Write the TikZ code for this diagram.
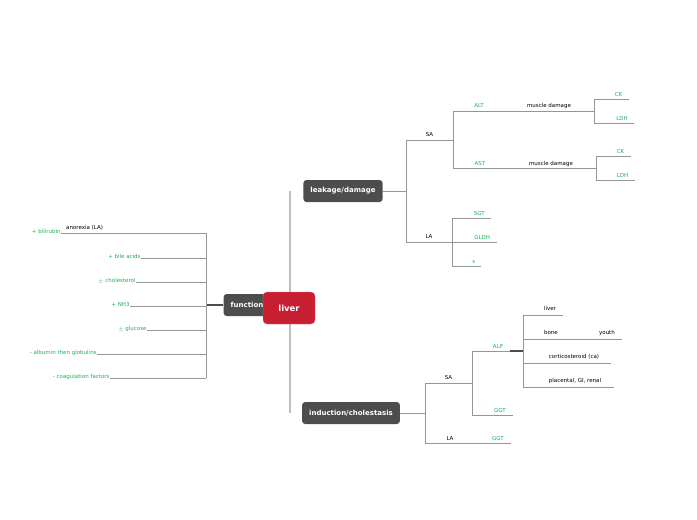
\documentclass[tikz,border=0pt]{standalone}
\usepackage{fontspec}
\setmainfont{DejaVu Sans}
\usetikzlibrary{positioning,calc}
\definecolor{leafgreen}{RGB}{30,176,90}
\definecolor{linegrey}{RGB}{150,150,150}
\definecolor{boxgrey}{RGB}{77,77,77}
\definecolor{liverred}{RGB}{200,30,50}
\tikzset{
  topic/.style={draw=none,fill=boxgrey,text=white,rounded corners=3pt,font=\bfseries\fontsize{7}{8}\selectfont,minimum height=22pt,inner xsep=7pt},
  lbl/.style={font=\fontsize{5.5}{6}\selectfont,inner sep=0pt,anchor=base},
  grn/.style={lbl,text=leafgreen},
  edge/.style={draw=linegrey,line width=0.8pt},
}
\begin{document}
\begin{tikzpicture}[x=1pt,y=-1pt]
\useasboundingbox (0,0) rectangle (697,520);
%% spine
\draw [line width=2pt,draw=linegrey!60] (290,191) -- (290,413);
% Node: leakage, function, induction
\node [topic] (leak) at (343,191) {leakage/damage};
\node [topic] (func) at (247,305) {function};
\node [topic] (ind) at (351,413) {induction/cholestasis};
% Node: liver
\node [draw=liverred!60,fill=liverred,text=white,rounded corners=4pt,font=\bfseries\fontsize{8.5}{9}\selectfont,minimum width=52pt,minimum height=32pt] (liver) at (289,308) {liver};
%% leakage/damage
\coordinate (lk) at (406,191);
\coordinate (lSA) at (453,140);
\coordinate (lLA) at (452,242);
\draw [edge] (leak.east) -- (lk);
\draw [edge] (lk |- lSA) -- (lk |- lLA);
\draw [edge] (lk |- lSA) -- (lSA) node [lbl,pos=0.5,above=3pt] {SA};
\draw [edge] (lk |- lLA) -- (lLA) node [lbl,pos=0.5,above=3pt] {LA};
\coordinate (ALT) at (594,111);
\coordinate (AST) at (596,168);
\draw [edge] (lSA |- ALT) -- (lSA |- AST);
\draw [edge] (lSA |- ALT) -- (ALT);
\node [grn] at (479,107) {ALT};
\node [lbl] at (549,107) {muscle damage};
\draw [edge] (lSA |- AST) -- (AST);
\node [grn] at (480,165) {AST};
\node [lbl] at (551,165) {muscle damage};
% Edge: CK / LDH
\draw [edge] (594,99) -- (ALT |- 0,123);
\draw [edge] (594,99) -- (629,99) node [grn,pos=0.7,above=2pt] {CK};
\draw [edge] (594,123) -- (634,123) node [grn,pos=0.7,above=2pt] {LDH};
\draw [edge] (596,156) -- (AST |- 0,180);
\draw [edge] (596,156) -- (631,156) node [grn,pos=0.7,above=2pt] {CK};
\draw [edge] (596,180) -- (635,180) node [grn,pos=0.68,above=2pt] {LDH};
\draw [edge] (lLA |- 0,218) -- (lLA |- 0,266);
\draw [edge] (452,218) -- (491,218) node [grn,pos=0.7,above=2pt] {SGT};
\draw [edge] (452,242) -- (497,242) node [grn,pos=0.67,above=2pt] {GLDH};
\draw [edge] (452,266) -- (481,266) node [grn,pos=0.75,above=2pt] {s};
%% function
\coordinate (fk) at (206,305);
\draw [edge,line width=1.2pt,draw=boxgrey] (func.west) -- (fk);
\draw [edge] (206,233) -- (206,378);
\foreach \y/\x/\t in {233/61/+ bilirubin,258/141/+ bile acids,282/136/$\pm$ cholesterol,306/130/+ NH3 / - BUN,330/147/$\pm$ glucose,354/97/- albumin then globulins,378/110/- coagulation factors}
  \draw [edge] (\x,\y) -- (206,\y) node [grn,anchor=base east,at start,xshift=0pt] at (186,\y-4) {\t};
\node [lbl,anchor=base west] at (66,229) {anorexia (LA)};
%% induction/cholestasis
\coordinate (ik) at (425,413);
\coordinate (iSA) at (472,383);
\draw [edge] (ind.east) -- (ik);
\draw [edge] (ik |- iSA) -- (ik |- 0,443);
\draw [edge] (ik |- iSA) -- (iSA) node [lbl,pos=0.5,above=3pt] {SA};
\draw [edge] (425,443) -- (511,443);
\node [lbl] at (450,440) {LA};
\node [grn] at (498,440) {GGT};
\draw [edge] (iSA |- 0,351) -- (iSA |- 0,415);
\coordinate (ALP) at (523,351);
\draw [edge] (472,351) -- (510,351) node [grn,pos=0.68,above=2pt] {ALP};
\draw [edge,draw=boxgrey,line width=1.2pt] (510,351) -- (ALP);
\draw [edge] (472,415) -- (513,415) node [grn,pos=0.68,above=2pt] {GGT};
\draw [edge] (ALP |- 0,315) -- (ALP |- 0,387);
\draw [edge] (523,315) -- (563,315);
\node [lbl] at (550,310) {liver};
\draw [edge] (523,339) -- (622,339);
\node [lbl] at (551,334) {bone};
\node [lbl] at (607,334) {youth};
\draw [edge] (523,363) -- (611,363);
\node [lbl] at (574,358) {corticosteroid (ca)};
\draw [edge] (523,387) -- (614,387);
\node [lbl] at (575,382) {placental, GI, renal};
\end{tikzpicture}
\end{document}
